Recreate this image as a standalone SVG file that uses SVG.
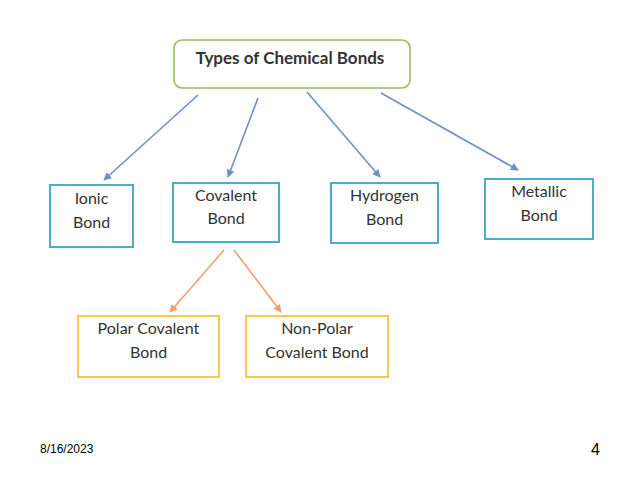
<svg xmlns="http://www.w3.org/2000/svg" width="638" height="478" viewBox="0 0 638 478">
<defs>
<style>
.t{font-family:Lato,"Open Sans","Liberation Sans",sans-serif;font-size:16px;fill:#333;text-anchor:middle}
.b{fill:#fff;stroke:#4bacc6;stroke-width:2}
.y{fill:#fff;stroke:#f2c94c;stroke-width:2}
.cb{stroke:#6f8fc9;stroke-width:1.6;fill:none;marker-end:url(#ab)}
.co{stroke:#ef9f6d;stroke-width:1.6;fill:none;marker-end:url(#ao)}
.f{font-family:"Liberation Sans",Arial,sans-serif;fill:#000}
</style>
<marker id="ab" viewBox="0 0 10 10" refX="9" refY="5" markerWidth="5" markerHeight="5" orient="auto"><path d="M0,0 L10,5 L0,10 z" fill="#6f8fc9"/></marker>
<marker id="ao" viewBox="0 0 10 10" refX="9" refY="5" markerWidth="5" markerHeight="5" orient="auto"><path d="M0,0 L10,5 L0,10 z" fill="#ef9f6d"/></marker>
</defs>
<rect width="638" height="478" fill="#fff"/>
<g id="connectors">
<line class="cb" x1="198" y1="95" x2="104" y2="180"/>
<line class="cb" x1="258" y1="98" x2="228" y2="177"/>
<line class="cb" x1="307" y1="92" x2="380" y2="177"/>
<line class="cb" x1="381" y1="93" x2="518" y2="170"/>
<line class="co" x1="224" y1="250" x2="170" y2="312"/>
<line class="co" x1="234" y1="250" x2="281" y2="312"/>
</g>
<g id="title">
<rect x="174" y="40" width="236" height="48" rx="8" fill="#fff" stroke="#9bbb59" stroke-width="1.6"/>
<text class="t" x="290" y="64" style="font-weight:bold;font-size:17px">Types of Chemical Bonds</text>
</g>
<g id="ionic">
<rect class="b" x="50" y="185" width="83" height="62"/>
<text class="t" x="91.5" y="204">Ionic</text>
<text class="t" x="91.5" y="228">Bond</text>
</g>
<g id="covalent">
<rect class="b" x="173" y="183" width="106" height="59"/>
<text class="t" x="226" y="201">Covalent</text>
<text class="t" x="226" y="224">Bond</text>
</g>
<g id="hydrogen">
<rect class="b" x="331" y="183" width="107" height="60"/>
<text class="t" x="384.5" y="201">Hydrogen</text>
<text class="t" x="384.5" y="225">Bond</text>
</g>
<g id="metallic">
<rect class="b" x="485" y="179" width="108" height="60"/>
<text class="t" x="539" y="197">Metallic</text>
<text class="t" x="539" y="221">Bond</text>
</g>
<g id="polar">
<rect class="y" x="78" y="316" width="141" height="61"/>
<text class="t" x="148.5" y="334">Polar Covalent</text>
<text class="t" x="148.5" y="358">Bond</text>
</g>
<g id="nonpolar">
<rect class="y" x="246" y="316" width="142" height="61"/>
<text class="t" x="317" y="334">Non-Polar</text>
<text class="t" x="317" y="358">Covalent Bond</text>
</g>
<text class="f" x="40" y="453" font-size="12">8/16/2023</text>
<text class="f" x="591" y="455" font-size="16">4</text>
</svg>
